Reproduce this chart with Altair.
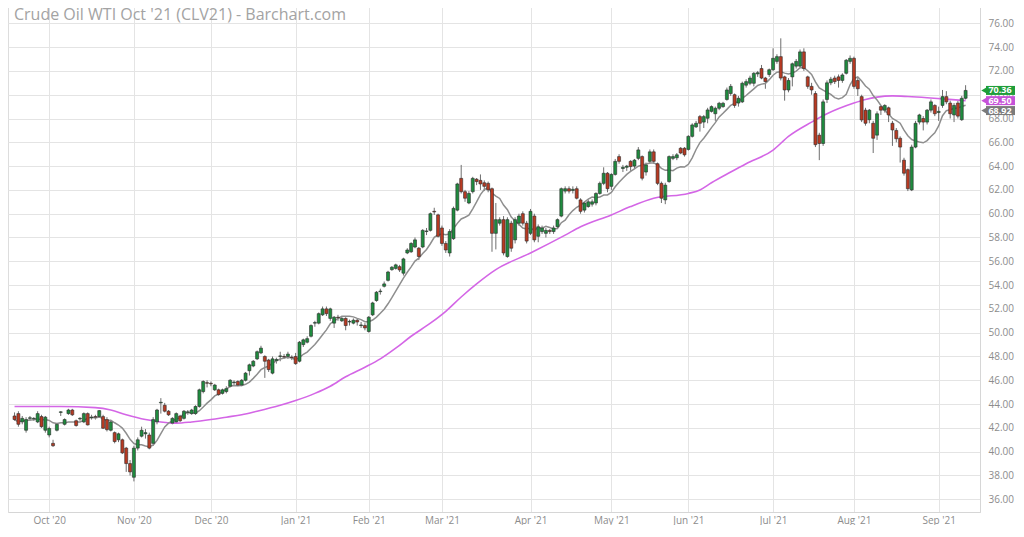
import altair as alt
import pandas as pd

title_text = "Crude Oil WTI Oct '21 (CLV21) - Barchart.com"
first_day = "2020-09-18"
last_day = "2021-09-13"
holidays = ["2020-11-26", "2020-12-25", "2021-01-01", "2021-01-18", "2021-02-15",
            "2021-04-02", "2021-05-31", "2021-07-05", "2021-09-06"]
month_labels = ["Oct '20", "Nov '20", "Dec '20", "Jan '21", "Feb '21", "Mar '21",
                "Apr '21", "May '21", "Jun '21", "Jul '21", "Aug '21", "Sep '21"]

open_ = [
    43.0, 43.2, 42.5, 41.8, 42.8, 42.75, 42.5, 42.95, 41.8, 41.4, 40.7, 41.8, 43.3, 42.3, 43.2, 43.5, 42.6, 42.75, 42.5, 43.2,
    42.85, 42.95, 42.95, 42.95, 42.7, 41.8, 41.6, 41.0, 41.0, 40.3, 39.0, 37.85, 40.3, 41.3, 41.5, 41.4, 40.7, 42.5, 44.1, 43.9,
    43.4, 42.4, 42.5, 43.0, 42.8, 43.3, 43.2, 43.2, 43.8, 45.05, 45.8, 45.75, 45.2, 45.2, 44.9, 45.05, 45.5, 45.8, 45.9, 45.6,
    46.0, 46.8, 47.2, 47.8, 48.3, 48.0, 47.7, 46.6, 47.65, 48.0, 48.0, 48.0, 47.95, 48.0, 47.6, 49.0, 49.2, 49.7, 50.8, 50.8,
    51.5, 52.0, 51.2, 50.8, 51.3, 51.0, 51.2, 50.9, 50.8, 51.05, 50.6, 50.6, 50.1, 51.5, 52.7, 53.45, 53.9, 54.4, 55.3, 55.4,
    55.55, 55.0, 56.7, 56.8, 57.2, 57.1, 57.2, 58.5, 58.6, 60.2, 59.9, 58.8, 57.5, 56.7, 57.9, 60.3, 62.97, 61.85, 60.9, 61.85,
    62.9, 62.8, 62.6, 62.55, 62.1, 58.35, 59.2, 59.5, 56.4, 59.2, 57.8, 59.2, 60.0, 59.2, 58.35, 59.8, 58.1, 58.5, 58.35, 58.6,
    58.5, 58.9, 59.8, 61.9, 62.1, 61.95, 62.1, 61.16, 60.3, 60.6, 60.8, 60.9, 61.7, 62.55, 63.4, 62.3, 63.3, 64.8, 63.8, 63.9,
    64.4, 64.0, 64.65, 64.8, 63.5, 64.4, 65.2, 64.2, 62.55, 61.16, 62.7, 64.65, 64.7, 65.5, 65.5, 65.4, 66.5, 67.3, 68.16, 67.7,
    68.02, 68.6, 68.4, 68.86, 69.0, 69.6, 70.1, 70.0, 69.3, 69.4, 70.8, 70.96, 70.96, 71.75, 72.2, 71.4, 71.7, 72.1, 72.8, 73.2,
    71.5, 70.4, 71.5, 72.4, 72.4, 73.6, 71.5, 70.7, 70.1, 66.6, 65.9, 69.6, 71.0, 71.4, 71.5, 71.2, 71.8, 72.8, 73.06, 71.2,
    69.84, 68.7, 67.9, 67.6, 66.6, 69.0, 68.7, 68.9, 67.6, 67.0, 66.34, 64.5, 63.7, 62.0, 65.6, 67.7, 68.0, 67.7, 68.7, 69.1,
    68.5, 69.1, 69.84, 69.3, 68.3, 69.3, 67.9, 69.7,
]
high_ = [
    43.3, 43.4, 43.0, 42.9, 43.0, 42.9, 43.4, 43.1, 43.0, 42.1, 41.0, 42.4, 43.4, 42.8, 43.6, 43.6, 42.7, 42.9, 43.3, 43.3,
    43.1, 43.1, 43.5, 43.1, 42.9, 42.6, 41.7, 41.6, 41.1, 40.4, 39.3, 40.5, 41.2, 42.1, 41.9, 41.6, 42.9, 43.6, 44.5, 44.1,
    43.5, 42.9, 43.3, 43.1, 43.5, 43.5, 43.6, 43.9, 45.3, 46.0, 46.0, 45.9, 45.7, 45.3, 45.3, 45.5, 46.1, 46.0, 46.0, 46.1,
    46.7, 47.4, 47.7, 48.5, 48.9, 48.1, 47.8, 48.0, 47.9, 48.4, 48.2, 48.4, 48.1, 48.3, 49.3, 49.5, 49.7, 50.7, 51.0, 51.7,
    52.2, 52.2, 52.1, 51.4, 51.5, 51.4, 51.3, 51.1, 51.2, 51.2, 50.9, 50.8, 51.4, 52.6, 53.5, 53.7, 54.3, 55.2, 55.6, 55.8,
    55.7, 56.3, 57.1, 57.6, 58.0, 57.2, 58.7, 58.8, 60.1, 60.5, 60.0, 59.0, 57.7, 58.7, 60.6, 62.6, 64.1, 62.0, 61.9, 63.1,
    63.0, 63.3, 62.8, 62.7, 62.2, 60.9, 59.7, 59.8, 59.7, 59.4, 59.7, 60.0, 60.2, 59.4, 60.4, 60.0, 59.1, 59.0, 58.8, 58.7,
    59.0, 59.6, 62.2, 62.3, 62.3, 62.3, 62.3, 61.3, 61.0, 61.2, 61.2, 61.8, 62.7, 63.9, 63.5, 63.4, 64.6, 65.0, 64.1, 64.1,
    64.5, 64.6, 65.6, 64.9, 64.3, 65.4, 65.4, 64.3, 62.7, 62.6, 64.9, 65.0, 65.1, 65.6, 65.6, 66.6, 67.6, 67.8, 68.3, 68.3,
    68.9, 69.1, 69.0, 69.4, 69.4, 70.6, 70.9, 70.1, 69.9, 71.1, 71.3, 71.6, 71.9, 72.0, 72.5, 71.5, 72.2, 73.9, 73.4, 74.74,
    71.6, 71.4, 72.7, 73.0, 73.8, 73.9, 71.6, 71.0, 70.3, 66.8, 69.6, 71.2, 71.5, 71.6, 71.7, 71.8, 73.0, 73.3, 73.2, 71.4,
    70.0, 68.9, 68.8, 67.8, 68.6, 69.1, 69.2, 69.0, 67.8, 67.2, 66.5, 64.7, 63.8, 65.8, 67.8, 68.4, 68.2, 68.8, 69.6, 69.2,
    69.0, 70.4, 70.3, 69.5, 69.3, 69.5, 69.9, 70.8,
]
low_ = [
    42.6, 42.1, 42.3, 41.6, 42.6, 42.6, 42.4, 42.0, 41.6, 41.2, 40.4, 41.7, 43.0, 42.2, 43.1, 43.0, 42.1, 42.6, 42.4, 42.2,
    42.7, 42.7, 42.9, 41.9, 41.7, 41.7, 40.7, 40.8, 39.8, 38.3, 38.0, 37.5, 40.1, 41.2, 41.1, 40.2, 40.5, 42.3, 43.2, 43.3,
    43.0, 42.3, 42.4, 42.5, 42.7, 43.1, 43.1, 43.1, 43.7, 44.9, 45.4, 45.5, 45.1, 44.7, 44.8, 44.9, 45.4, 45.6, 45.5, 45.5,
    45.9, 46.4, 47.1, 47.7, 48.2, 46.2, 46.7, 46.5, 47.4, 47.6, 47.8, 47.8, 47.7, 47.3, 47.5, 48.8, 49.1, 49.6, 50.5, 50.7,
    51.4, 51.4, 51.0, 50.4, 51.0, 50.9, 50.2, 50.6, 50.7, 50.6, 50.4, 50.2, 50.0, 51.4, 52.6, 53.2, 53.8, 54.3, 55.2, 55.3,
    55.1, 54.8, 56.6, 56.7, 57.1, 56.1, 57.1, 58.2, 58.5, 59.9, 58.0, 57.3, 56.7, 56.4, 57.8, 60.2, 61.7, 61.0, 60.8, 61.7,
    62.4, 62.0, 61.9, 61.8, 56.8, 57.0, 59.0, 56.5, 56.3, 56.8, 57.5, 59.0, 59.0, 57.5, 58.2, 57.6, 57.6, 58.3, 58.0, 58.3,
    58.3, 58.8, 59.7, 61.7, 61.7, 61.7, 61.2, 60.0, 60.1, 60.5, 60.6, 60.7, 61.6, 62.4, 61.8, 62.0, 63.2, 64.2, 63.5, 63.6,
    63.6, 63.8, 64.5, 62.8, 63.2, 64.2, 64.2, 62.4, 60.9, 60.8, 62.6, 64.5, 64.5, 65.0, 64.8, 65.3, 66.4, 67.2, 66.9, 67.2,
    67.6, 68.5, 67.8, 68.7, 68.9, 69.5, 69.9, 68.9, 69.0, 69.3, 70.6, 70.8, 70.7, 71.5, 71.3, 70.5, 71.5, 72.0, 72.6, 71.2,
    69.5, 70.2, 70.7, 72.2, 72.3, 72.0, 70.5, 70.0, 65.6, 64.5, 65.7, 69.3, 70.8, 70.9, 70.6, 71.0, 71.7, 72.6, 70.5, 69.9,
    67.7, 67.4, 67.6, 65.1, 66.2, 68.3, 68.5, 67.7, 65.7, 66.0, 64.3, 63.2, 61.9, 61.9, 65.5, 67.5, 67.0, 67.5, 68.5, 68.2,
    67.8, 68.9, 69.2, 68.0, 67.7, 68.0, 67.8, 69.6,
]
close_ = [
    42.7, 42.3, 42.8, 42.7, 42.85, 42.8, 43.2, 42.1, 42.9, 41.95, 40.5, 42.3, 43.35, 42.7, 43.5, 43.1, 42.2, 42.8, 43.2, 42.25,
    42.9, 42.9, 43.45, 41.97, 41.85, 42.5, 40.85, 41.5, 39.9, 39.0, 38.3, 40.3, 41.0, 41.8, 41.6, 40.3, 42.7, 43.5, 44.15, 43.4,
    43.1, 42.8, 43.2, 42.6, 43.4, 43.35, 43.5, 43.8, 45.2, 45.9, 45.75, 45.7, 45.6, 44.8, 45.2, 45.3, 46.0, 45.85, 45.6, 46.0,
    46.6, 47.3, 47.6, 48.4, 48.7, 47.6, 46.9, 47.8, 47.75, 48.05, 47.95, 48.2, 47.9, 47.4, 49.2, 49.4, 49.5, 50.6, 50.85, 51.6,
    52.0, 51.6, 52.0, 51.3, 51.25, 51.2, 50.6, 50.95, 51.05, 50.9, 50.65, 50.4, 51.3, 52.5, 53.4, 53.5, 54.1, 55.1, 55.5, 55.7,
    55.27, 56.2, 56.95, 57.5, 57.8, 56.4, 58.6, 58.55, 60.0, 60.15, 58.1, 57.5, 56.95, 58.5, 60.45, 62.5, 61.85, 61.3, 61.7, 62.97,
    62.7, 62.5, 62.3, 62.0, 58.35, 59.5, 59.5, 56.7, 59.5, 57.1, 59.5, 59.8, 59.2, 57.7, 60.2, 57.8, 58.9, 58.8, 58.6, 58.5,
    58.8, 59.5, 62.1, 62.1, 61.9, 62.05, 61.3, 60.2, 60.9, 61.0, 61.0, 61.7, 62.55, 63.4, 62.1, 63.3, 64.4, 64.4, 63.9, 64.0,
    63.96, 64.5, 65.36, 62.98, 64.1, 65.2, 64.4, 62.55, 61.3, 62.4, 64.8, 64.8, 64.95, 65.1, 64.95, 66.5, 67.46, 67.6, 67.6, 68.16,
    68.72, 69.0, 68.86, 69.28, 69.28, 70.4, 70.7, 69.1, 69.7, 70.96, 71.1, 71.4, 71.8, 71.85, 71.4, 71.1, 72.1, 73.06, 73.2, 71.4,
    70.4, 71.2, 72.6, 72.8, 73.6, 72.2, 70.7, 70.4, 65.8, 65.9, 69.4, 71.0, 71.3, 71.1, 71.2, 71.66, 72.9, 73.06, 70.7, 70.5,
    67.88, 67.6, 68.7, 66.34, 68.4, 68.7, 69.1, 68.3, 67.04, 66.3, 65.6, 63.4, 62.1, 65.6, 67.6, 68.3, 67.7, 68.7, 69.4, 68.4,
    68.6, 69.84, 69.4, 68.4, 69.1, 68.2, 69.7, 70.36,
]

# 100-day moving average (magenta), read at sample points along the curve
ma100_idx = [0, 12, 21, 25, 29, 34, 38, 42, 46, 51, 55, 59, 63, 69, 73, 78, 82, 86, 91, 95,
             99, 103, 108, 112, 116, 120, 125, 134, 143, 147, 155, 160, 166, 175, 178, 181, 186, 190, 197, 201,
             207, 211, 218, 221, 224, 228, 232, 237, 241, 247]
ma100_val = [43.8, 43.8, 43.7, 43.5, 43.1, 42.7, 42.5, 42.4, 42.5, 42.7, 42.9, 43.1, 43.4, 43.9, 44.3, 44.9, 45.5, 46.3, 47.1, 47.8,
             48.7, 49.7, 50.8, 51.8, 53.0, 54.1, 55.3, 56.7, 58.2, 58.9, 59.9, 60.6, 61.3, 61.7, 62.0, 62.6, 63.5, 64.2, 65.35, 66.5,
             67.7, 68.4, 69.3, 69.6, 69.8, 69.9, 69.85, 69.75, 69.65, 69.5]

tag_text = ["70.36", "69.50", "68.92"]
tag_value = [70.36, 69.50, 68.92]
tag_color = ["#1f9e3a", "#c652d8", "#7b7b7b"]
tag_shift = [0, 0, 3]   # pixel nudge so stacked tags sit one under another

# ---------------------------------------------------------------
dates = pd.bdate_range(first_day, last_day)
dates = dates[~dates.isin(pd.to_datetime(holidays))]
month_idx = [i for i in range(1, len(dates)) if dates[i].month != dates[i - 1].month]

df = pd.DataFrame({
    "idx": list(range(len(open_))),
    "open": open_, "high": high_, "low": low_, "close": close_,
})
df["dir"] = ["up" if c >= o else "down" for o, c in zip(open_, close_)]

ma_df = pd.DataFrame({"idx": ma100_idx, "v": ma100_val})
tag_df = pd.DataFrame({"t": tag_text, "v": tag_value, "c": tag_color})
title_df = pd.DataFrame({"t": [title_text]})

W, H = 972, 512
xs = alt.Scale(domain=[-0.4, 249.44], nice=False, zero=False)
ys = alt.Scale(domain=[34.93, 77.96], nice=False, zero=False)

expr = ""
for i, lab in zip(month_idx, month_labels):
    expr += f'datum.value == {i} ? "{lab}" : '
expr += '""'

x_axis = alt.Axis(values=month_idx, labelExpr=expr, grid=True, gridColor="#e4e4e4",
                  ticks=False, domainColor="#d6d6d6", labelColor="#8c8c8c",
                  labelFontSize=10, labelPadding=3, title=None, labelFont="Open Sans")
y_axis = alt.Axis(orient="right", values=list(range(36, 78, 2)), format=".2f", grid=True,
                  gridColor="#e4e4e4", ticks=False, domainColor="#d6d6d6",
                  labelColor="#8c8c8c", labelFontSize=10, labelPadding=8, title=None,
                  labelFont="Open Sans")


def X(field):
    return alt.X(field, scale=xs, axis=x_axis)


def Y(field):
    return alt.Y(field, scale=ys, axis=y_axis)


base = alt.Chart(df)

wicks = base.mark_rule(color="#6e6e6e", strokeWidth=1).encode(
    x=X("idx:Q"), y=Y("low:Q"), y2="high:Q",
)

ma_short = base.transform_window(
    ma="mean(close)", frame=[-8, 0], sort=[alt.SortField("idx")]
).mark_line(color="#8e8e8e", strokeWidth=1.5).encode(
    x=X("idx:Q"), y=Y("ma:Q"),
)

ma_long = alt.Chart(ma_df).mark_line(color="#d466e6", strokeWidth=1.6, interpolate="monotone").encode(
    x=X("idx:Q"), y=Y("v:Q"),
)

bodies = base.mark_bar(size=3, stroke="#2b2b2b", strokeWidth=0.6).encode(
    x=X("idx:Q"), y=Y("open:Q"), y2="close:Q",
    color=alt.Color("dir:N", scale=alt.Scale(domain=["up", "down"], range=["#1e8c3e", "#b83a22"]), legend=None),
)

tag_layers = []
for i in range(len(tag_text)):
    sub = alt.Chart(tag_df.iloc[[i]])
    tag_layers.append(sub.mark_rule(strokeWidth=9, yOffset=tag_shift[i]).encode(
        x=alt.value(W + 6), x2=alt.value(W + 35), y=Y("v:Q"),
        color=alt.Color("c:N", scale=None),
    ))
    tag_layers.append(sub.mark_point(shape="triangle-left", filled=True, size=40, opacity=1,
                                     yOffset=tag_shift[i]).encode(
        x=alt.value(W + 4), y=Y("v:Q"), color=alt.Color("c:N", scale=None),
    ))
    tag_layers.append(sub.mark_text(color="white", fontSize=9, fontWeight="bold", font="Open Sans",
                                    yOffset=tag_shift[i]).encode(
        x=alt.value(W + 20), y=Y("v:Q"), text="t:N",
    ))

title = alt.Chart(title_df).mark_text(align="left", baseline="alphabetic", fontSize=16,
                                      color="#a3a3a3", font="Open Sans").encode(
    x=alt.value(6), y=alt.value(20), text="t:N",
)

chart = alt.layer(wicks, ma_long, ma_short, bodies, *tag_layers, title).properties(
    width=W, height=H,
    autosize=alt.AutoSizeParams(type="none"),
    padding={"left": 0, "top": -8, "right": 36, "bottom": 13},
).configure_view(strokeWidth=0).configure(background="white")

chart.save("out.html", embed_options={"renderer": "svg", "actions": False})
